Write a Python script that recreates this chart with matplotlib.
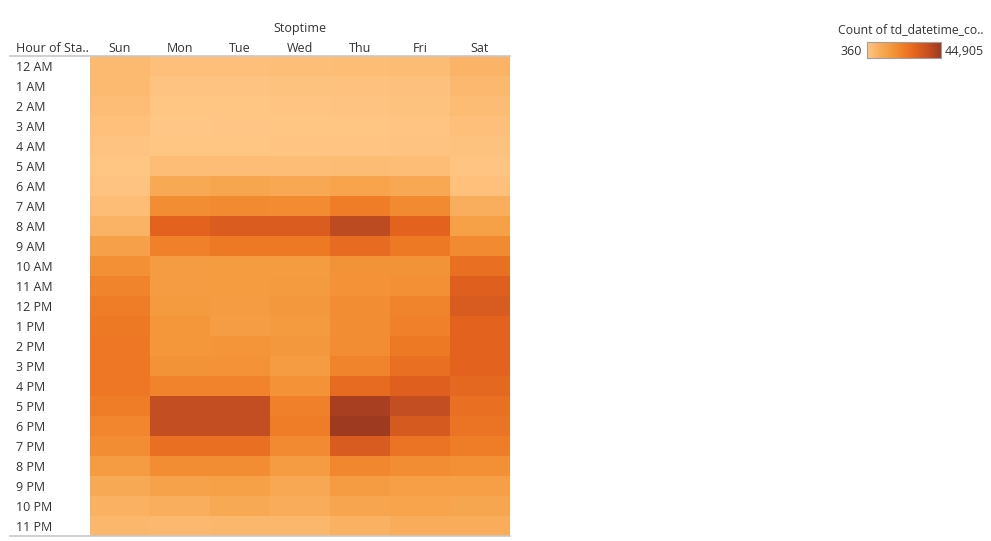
import matplotlib
matplotlib.use("Agg")
import matplotlib.pyplot as plt
import numpy as np
from matplotlib.colors import LinearSegmentedColormap

# hours shown on the rows and weekdays on the columns
hours = ["12 AM", "1 AM", "2 AM", "3 AM", "4 AM", "5 AM", "6 AM", "7 AM", "8 AM", "9 AM",
         "10 AM", "11 AM", "12 PM", "1 PM", "2 PM", "3 PM", "4 PM", "5 PM", "6 PM", "7 PM",
         "8 PM", "9 PM", "10 PM", "11 PM"]
days = ["Sun", "Mon", "Tue", "Wed", "Thu", "Fri", "Sat"]

# trip counts per hour, one list per weekday
sun = [4100, 3920, 3030, 2140, 1250, 805, 1250, 3030, 6150, 11940, 17290, 20410,
       22630, 23520, 23970, 23970, 23970, 22630, 19960, 18180, 13720, 9270, 6600, 4810]
mon = [2590, 1250, 805, 360, 805, 3030, 9270, 18180, 29760, 21300, 13720, 13720,
       14610, 15510, 15510, 16400, 20850, 37780, 37780, 26200, 18180, 11500, 7490, 4370]
tue = [2590, 1250, 805, 580, 805, 3030, 10160, 19070, 31990, 23520, 14170, 14170,
       13720, 13280, 15950, 16840, 20850, 37780, 37780, 26200, 18180, 12390, 9270, 4810]
wed = [2810, 1470, 1030, 805, 895, 3030, 9710, 18620, 31990, 23520, 14170, 14610,
       15060, 14610, 15060, 13720, 16840, 21740, 22630, 19070, 13720, 9710, 7930, 4810]
thu = [3260, 1700, 1250, 805, 1030, 3480, 11050, 22630, 38670, 27090, 16400, 16840,
       18180, 18180, 18180, 20410, 27090, 43120, 44905, 32430, 19510, 13720, 10600, 6600]
fri = [3480, 1920, 1470, 1030, 1250, 3030, 9710, 19070, 29760, 23520, 16400, 17290,
       20410, 21740, 23520, 26200, 30650, 37780, 33320, 24860, 18180, 12830, 11050, 7930]
sat = [5710, 4370, 3480, 2590, 1470, 1030, 2140, 7490, 12390, 19070, 26200, 30650,
       32430, 29760, 29760, 29760, 28420, 26200, 24860, 22630, 17290, 12830, 10160, 7930]

data = np.array([sun, mon, tue, wed, thu, fri, sat]).T
vmin, vmax = data.min(), data.max()

plt.rcParams['font.family'] = ['Open Sans', 'DejaVu Sans']
txt = '#333333'
fs = 9

cmap = LinearSegmentedColormap.from_list(
    "tab_orange", ['#FFC685', '#F9AD5A', '#F4983C', '#EF7C26', '#E2621E', '#C44F21', '#9E3A20'])

W, H = 991, 541
fig = plt.figure(figsize=(W / 100, H / 100), dpi=100)


def fx(px):
    return px / W


def fy(py):
    return 1 - py / H


# heatmap area
ax = fig.add_axes([fx(90), fy(536), fx(420), (536 - 56) / H])
ax.pcolormesh(data, cmap=cmap, vmin=vmin, vmax=vmax)
ax.set_xlim(0, len(days))
ax.set_ylim(len(hours), 0)
ax.set_axis_off()

# header texts
fig.text(fx(300), fy(27), "Stoptime", ha='center', va='center_baseline', fontsize=fs, color=txt)
fig.text(fx(16), fy(47), "Hour of Sta..", ha='left', va='center_baseline', fontsize=fs, color=txt)
for i, d in enumerate(days):
    fig.text(fx(90 + 60 * i + 30), fy(47), d, ha='center', va='center_baseline', fontsize=fs, color=txt)
for j, h in enumerate(hours):
    fig.text(fx(16), fy(56 + 20 * j + 10), h, ha='left', va='center_baseline', fontsize=fs, color=txt)

# separator lines
for yy in (56, 536):
    fig.add_artist(plt.Line2D([fx(10), fx(510)], [fy(yy), fy(yy)], color='#c8c8c8', lw=1.2))

# legend
fig.text(fx(838), fy(28), "Count of td_datetime_co..", ha='left', va='center_baseline', fontsize=8.8, color=txt)
cax = fig.add_axes([fx(867), fy(58), fx(74), 16 / H])
cax.imshow(np.linspace(0, 1, 256)[None, :], cmap=cmap, aspect='auto')
cax.set_xticks([])
cax.set_yticks([])
for s in cax.spines.values():
    s.set_color('#a0a0a0')
fig.text(fx(862), fy(50), f"{vmin:,}", ha='right', va='center_baseline', fontsize=fs, color=txt)
fig.text(fx(945), fy(50), f"{vmax:,}", ha='left', va='center_baseline', fontsize=fs, color=txt)

plt.savefig("out.png", dpi=100)
